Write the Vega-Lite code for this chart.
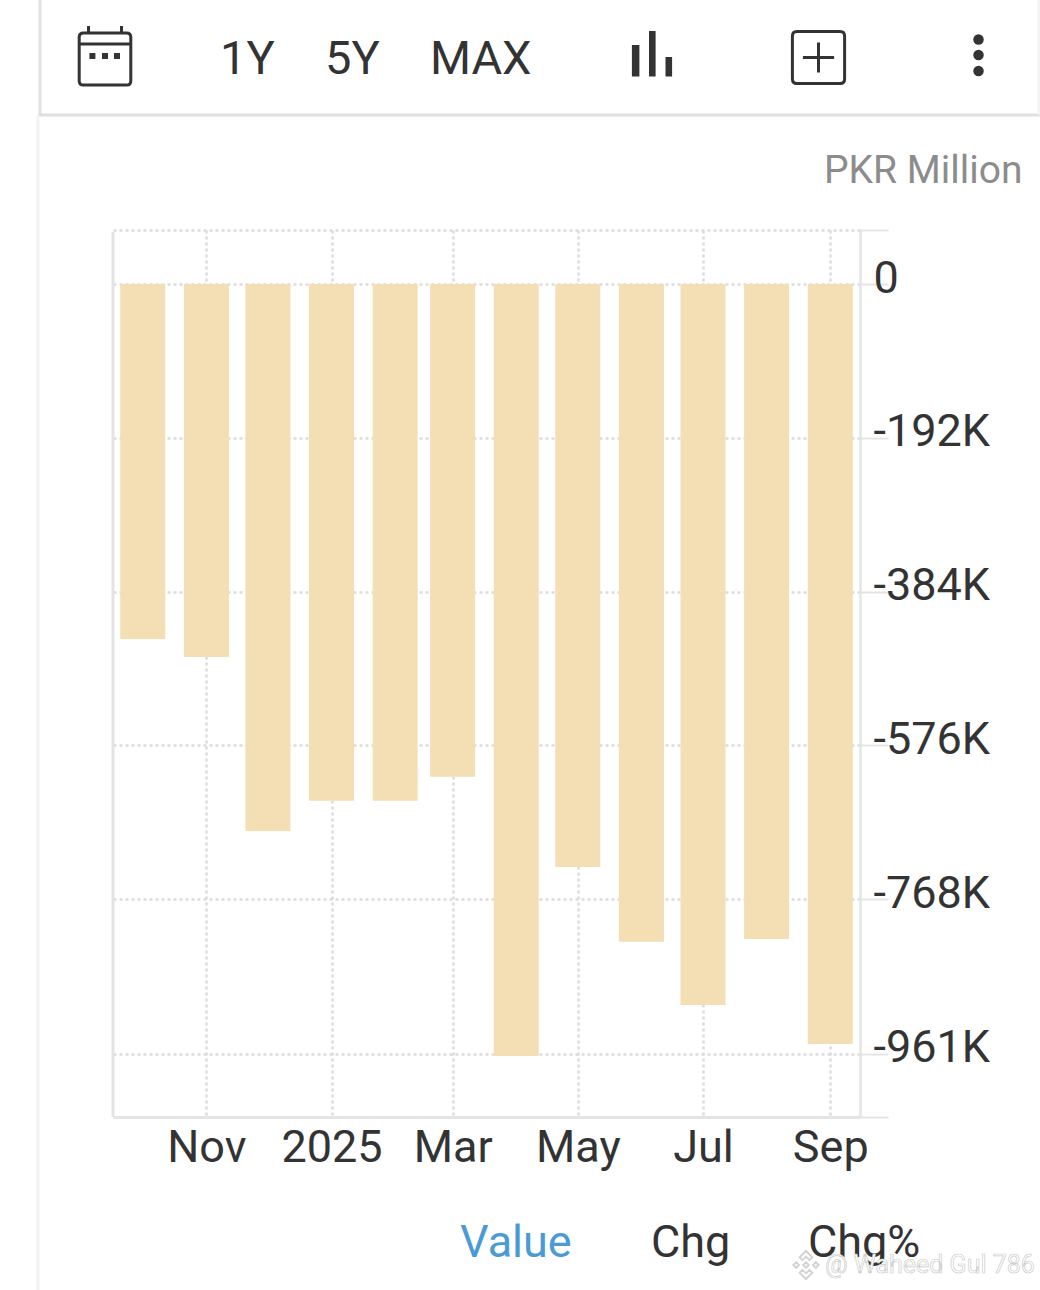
{
  "$schema": "https://vega.github.io/schema/vega-lite/v6.json",
  "width": 747,
  "height": 887,
  "autosize": "none",
  "padding": {"left": 113, "top": 230, "right": 180, "bottom": 173},
  "background": "white",
  "config": {"view": {"stroke": null}, "text": {"font": "Roboto"}},
  "resolve": {
    "scale": {"x": "independent", "y": "independent", "color": "independent", "size": "independent", "shape": "independent"},
    "axis": {"x": "independent", "y": "independent"}
  },
  "layer": [
    {
      "data": {
        "values": [
          {"across": 38, "across2": 38, "down": 115, "down2": 1290, "part": "page"},
          {"across": 40, "across2": 40, "down": 0, "down2": 116, "part": "toolbar"},
          {"across": 40, "across2": 1040, "down": 115, "down2": 115, "part": "toolbar"},
          {"across": 1039, "across2": 1039, "down": 0, "down2": 115, "part": "page"},
          {"across": 113, "across2": 113, "down": 232, "down2": 1117, "part": "frame"}
        ]
      },
      "mark": {"type": "rule", "strokeWidth": 3},
      "encoding": {
        "x": {"field": "across", "type": "quantitative", "axis": null, "scale": {"domain": [0, 1040], "range": [-113, 927]}},
        "x2": {"field": "across2"},
        "y": {"field": "down", "type": "quantitative", "axis": null, "scale": {"domain": [0, 1290], "range": [-230, 1060]}},
        "y2": {"field": "down2"},
        "color": {"field": "part", "type": "nominal", "legend": null, "scale": {"domain": ["page", "toolbar", "frame"], "range": ["#f3f3f3", "#dfe0e0", "#e4e4e4"]}}
      }
    },
    {
      "data": {
        "values": [
          {"month": "2024-10-01", "value": -443000},
          {"month": "2024-11-01", "value": -465500},
          {"month": "2024-12-01", "value": -682700},
          {"month": "2025-01-01", "value": -645000},
          {"month": "2025-02-01", "value": -645000},
          {"month": "2025-03-01", "value": -615000},
          {"month": "2025-04-01", "value": -963500},
          {"month": "2025-05-01", "value": -727600},
          {"month": "2025-06-01", "value": -821000},
          {"month": "2025-07-01", "value": -900000},
          {"month": "2025-08-01", "value": -817500},
          {"month": "2025-09-01", "value": -948600}
        ]
      },
      "mark": {"type": "bar", "width": 45, "color": "#f4deb3"},
      "encoding": {
        "x": {
          "field": "month",
          "type": "temporal",
          "scale": {"type": "utc", "padding": 0, "domain": ["2024-09-16T12:00:00Z", "2025-09-15T12:00:00Z"]},
          "axis": {
            "title": null,
            "values": ["2024-11-01", "2025-01-01", "2025-03-01", "2025-05-01", "2025-07-01", "2025-09-01"],
            "labelExpr": "utcmonth(datum.value) == 0 ? utcFormat(datum.value, '%Y') : utcFormat(datum.value, '%b')",
            "labelFont": "Roboto",
            "labelFontSize": 45,
            "labelColor": "#333333",
            "labelPadding": 8,
            "labelOverlap": false,
            "labelFlush": false,
            "labelBound": false,
            "ticks": false,
            "tickSize": 0,
            "domainColor": "#e4e4e4",
            "domainWidth": 3,
            "grid": true,
            "gridColor": "#dcdcdc",
            "gridWidth": 2.5,
            "gridDash": [3, 3]
          }
        },
        "y": {
          "field": "value",
          "type": "quantitative",
          "scale": {"domain": [-1039700, 67400]},
          "axis": {
            "title": null,
            "orient": "right",
            "values": [67400, 0, -192000, -384000, -576000, -768000, -961000, -1039700],
            "labelExpr": "datum.value == 0 ? '0' : (datum.value > 0 || datum.value < -1000000 ? '' : round(datum.value / 1000) + 'K')",
            "labelFont": "Roboto",
            "labelFontSize": 45,
            "labelColor": "#333333",
            "labelAlign": "left",
            "labelPadding": -15,
            "labelOffset": -6,
            "labelOverlap": false,
            "labelBound": false,
            "labelFlush": false,
            "tickSize": 28,
            "tickColor": "#e4e4e4",
            "tickWidth": 2,
            "domainColor": "#e4e4e4",
            "domainWidth": 2.5,
            "grid": true,
            "gridColor": "#dcdcdc",
            "gridWidth": 2.5,
            "gridDash": [3, 3]
          }
        }
      }
    },
    {
      "data": {
        "values": [
          {"label": "1Y", "across": 220, "down": 74, "kind": "toolbar"},
          {"label": "5Y", "across": 325, "down": 74, "kind": "toolbar"},
          {"label": "MAX", "across": 430, "down": 74, "kind": "toolbar"},
          {"label": "PKR Million", "across": 824, "down": 183, "kind": "unit"},
          {"label": "Value", "across": 460, "down": 1257, "kind": "active"},
          {"label": "Chg", "across": 651, "down": 1257, "kind": "tab"},
          {"label": "Chg%", "across": 808, "down": 1257, "kind": "tab"}
        ]
      },
      "mark": {"type": "text", "align": "left", "baseline": "alphabetic", "clip": false},
      "encoding": {
        "x": {"field": "across", "type": "quantitative", "axis": null, "scale": {"domain": [0, 1040], "range": [-113, 927]}},
        "y": {"field": "down", "type": "quantitative", "axis": null, "scale": {"domain": [0, 1290], "range": [-230, 1060]}},
        "text": {"field": "label"},
        "color": {"field": "kind", "type": "nominal", "legend": null, "scale": {"domain": ["toolbar", "unit", "active", "tab"], "range": ["#333333", "#8c8c8c", "#4a9ad8", "#333333"]}},
        "size": {
          "condition": [
            {"test": "datum.kind === 'unit'", "value": 39},
            {"test": "datum.kind === 'toolbar'", "value": 47}
          ],
          "value": 45
        }
      }
    },
    {
      "data": {
        "values": [
          {"icon": "calendar", "across": 105, "down": 56},
          {"icon": "plus", "across": 818.5, "down": 57.5}
        ]
      },
      "mark": {"type": "point", "filled": false, "strokeWidth": 3, "opacity": 1, "color": "#333333"},
      "encoding": {
        "x": {"field": "across", "type": "quantitative", "axis": null, "scale": {"domain": [0, 1040], "range": [-113, 927]}},
        "y": {"field": "down", "type": "quantitative", "axis": null, "scale": {"domain": [0, 1290], "range": [-230, 1060]}},
        "size": {"value": 3600},
        "shape": {
          "field": "icon",
          "type": "nominal",
          "legend": null,
          "scale": {
            "domain": ["calendar", "plus"],
            "range": [
              "M-.72 -.77H.72Q.86 -.77 .86 -.63V.83Q.86 .97 .72 .97H-.72Q-.86 .97 -.86 .83V-.63Q-.86 -.77 -.72 -.77ZM-.86 -.4H.86M-.55 -1V-.77M.55 -1V-.77M-.47 -.05h.1v.1h-.1zM-.05 -.05h.1v.1h-.1zM.35 -.05h.1v.1h-.1z",
              "M-.72 -.87H.72Q.87 -.87 .87 -.72V.72Q.87 .87 .72 .87H-.72Q-.87 .87 -.87 .72V-.72Q-.87 -.87 -.72 -.87ZM-.52 0H.52M0 -.5V.5"
            ]
          }
        }
      }
    },
    {
      "data": {
        "values": [
          {"across": 652, "down": 54}
        ]
      },
      "mark": {
        "type": "point",
        "filled": true,
        "opacity": 1,
        "color": "#333333",
        "shape": "M-.67 -.3H-.42V.75H-.67ZM-.1 -.77H.12V.75H-.1ZM.45 .1H.67V.75H.45Z",
        "size": 3600
      },
      "encoding": {
        "x": {"field": "across", "type": "quantitative", "axis": null, "scale": {"domain": [0, 1040], "range": [-113, 927]}},
        "y": {"field": "down", "type": "quantitative", "axis": null, "scale": {"domain": [0, 1290], "range": [-230, 1060]}}
      }
    },
    {
      "data": {
        "values": [
          {"across": 978.5, "down": 39.5},
          {"across": 978.5, "down": 55},
          {"across": 978.5, "down": 71}
        ]
      },
      "mark": {"type": "point", "shape": "circle", "filled": true, "opacity": 1, "color": "#333333", "size": 110},
      "encoding": {
        "x": {"field": "across", "type": "quantitative", "axis": null, "scale": {"domain": [0, 1040], "range": [-113, 927]}},
        "y": {"field": "down", "type": "quantitative", "axis": null, "scale": {"domain": [0, 1290], "range": [-230, 1060]}}
      }
    },
    {
      "data": {"values": [{"across": 806, "down": 1265}]},
      "mark": {
        "type": "point",
        "filled": false,
        "opacity": 1,
        "color": "#d4d4d4",
        "strokeWidth": 2,
        "size": 784,
        "shape": "M0 -1L.45 -.55L.25 -.35L0 -.6L-.25 -.35L-.45 -.55ZM0 1L.45 .55L.25 .35L0 .6L-.25 .35L-.45 .55ZM-.7 -.2L-.5 0L-.7 .2L-.9 0ZM.7 -.2L.9 0L.7 .2L.5 0ZM0 -.2L.2 0L0 .2L-.2 0Z"
      },
      "encoding": {
        "x": {"field": "across", "type": "quantitative", "axis": null, "scale": {"domain": [0, 1040], "range": [-113, 927]}},
        "y": {"field": "down", "type": "quantitative", "axis": null, "scale": {"domain": [0, 1290], "range": [-230, 1060]}}
      }
    },
    {
      "data": {"values": [{"label": "@ Waheed Gul 786", "across": 825, "down": 1273}]},
      "mark": {"type": "text", "align": "left", "baseline": "alphabetic", "fontSize": 25, "fill": "white", "stroke": "#cccccc", "strokeWidth": 0.7},
      "encoding": {
        "x": {"field": "across", "type": "quantitative", "axis": null, "scale": {"domain": [0, 1040], "range": [-113, 927]}},
        "y": {"field": "down", "type": "quantitative", "axis": null, "scale": {"domain": [0, 1290], "range": [-230, 1060]}},
        "text": {"field": "label"}
      }
    }
  ]
}
